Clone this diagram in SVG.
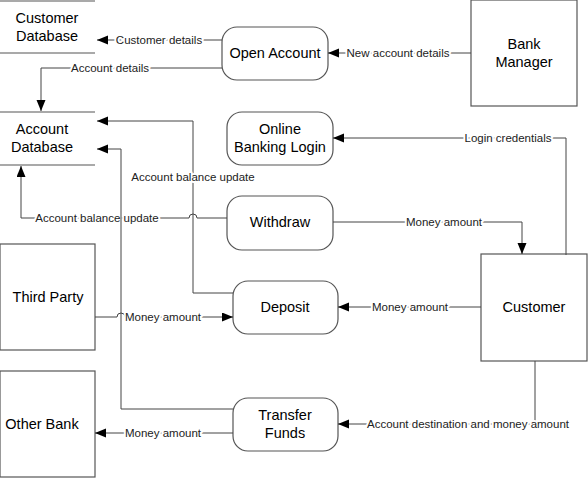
<svg xmlns="http://www.w3.org/2000/svg" width="588" height="478" viewBox="0 0 588 478">
<style>
.box{fill:#fff;stroke:#555;stroke-width:1.2}
.store{stroke:#555;stroke-width:1.2;fill:none}
.t{font-family:"Liberation Sans",Arial,sans-serif;font-size:14.5px;fill:#000;text-anchor:middle}
.c{fill:none;stroke:#444;stroke-width:1}
.l{font-family:"Liberation Sans",Arial,sans-serif;font-size:11.5px;fill:#222;text-anchor:middle;paint-order:stroke;stroke:#fff;stroke-width:4px;stroke-linejoin:round}
</style>
<defs>
<marker id="a" markerUnits="userSpaceOnUse" markerWidth="12" markerHeight="10" refX="11" refY="4.5" orient="auto">
<path d="M0,0 L11,4.5 L0,9 z" fill="#000"/>
</marker>
</defs>
<rect width="588" height="478" fill="#fff"/>
<g id="customer-database">
<path class="store" d="M0,1 H95 M0,53 H95"/>
<text class="t" x="47" y="23">Customer</text>
<text class="t" x="47" y="41">Database</text>
</g>
<g id="account-database">
<path class="store" d="M0,112 H95 M0,165 H95"/>
<text class="t" x="42" y="134">Account</text>
<text class="t" x="42" y="152">Database</text>
</g>
<g id="open-account">
<rect class="box" x="222" y="27" width="106" height="53" rx="15"/>
<text class="t" x="275" y="58">Open Account</text>
</g>
<g id="bank-manager">
<rect class="box" x="471" y="0" width="106" height="106"/>
<text class="t" x="524" y="49">Bank</text>
<text class="t" x="524" y="67">Manager</text>
</g>
<g id="online-banking-login">
<rect class="box" x="227" y="112" width="106" height="53" rx="15"/>
<text class="t" x="280" y="134">Online</text>
<text class="t" x="280" y="152">Banking Login</text>
</g>
<g id="withdraw">
<rect class="box" x="227" y="196" width="106" height="54" rx="15"/>
<text class="t" x="280" y="227">Withdraw</text>
</g>
<g id="deposit">
<rect class="box" x="233" y="281" width="105" height="53" rx="15"/>
<text class="t" x="285" y="312">Deposit</text>
</g>
<g id="transfer-funds">
<rect class="box" x="233" y="398" width="105" height="53" rx="15"/>
<text class="t" x="285" y="420">Transfer</text>
<text class="t" x="285" y="438">Funds</text>
</g>
<g id="third-party">
<rect class="box" x="0" y="244" width="95" height="106"/>
<text class="t" x="48" y="302">Third Party</text>
</g>
<g id="other-bank">
<rect class="box" x="0" y="371" width="95" height="106"/>
<text class="t" x="42" y="429">Other Bank</text>
</g>
<g id="customer">
<rect class="box" x="481" y="254" width="106" height="107"/>
<text class="t" x="534" y="312">Customer</text>
</g>
<g id="connectors">
<path class="c" d="M222,40 H97" marker-end="url(#a)"/>
<text class="l" x="159" y="44">Customer details</text>
<path class="c" d="M471,53 H328" marker-end="url(#a)"/>
<text class="l" x="398" y="57">New account details</text>
<path class="c" d="M222,68 H41 V111" marker-end="url(#a)"/>
<text class="l" x="110" y="72">Account details</text>
<path class="c" d="M566,255 V138 H333" marker-end="url(#a)"/>
<text class="l" x="508" y="142">Login credentials</text>
<path class="c" d="M333,222 H522 V254" marker-end="url(#a)"/>
<text class="l" x="444" y="226">Money amount</text>
<path class="c" d="M227,218 H197 A4,4 0 0 0 189,218 H21 V166" marker-end="url(#a)"/>
<text class="l" x="97" y="222">Account balance update</text>
<path class="c" d="M233,293 H193 V121 H97" marker-end="url(#a)"/>
<text class="l" x="193" y="181">Account balance update</text>
<path class="c" d="M233,409 H121 V149 H97" marker-end="url(#a)"/>
<path class="c" d="M95,317 H117 A4,4 0 0 1 125,317 H233" marker-end="url(#a)"/>
<text class="l" x="163" y="321">Money amount</text>
<path class="c" d="M481,307 H338" marker-end="url(#a)"/>
<text class="l" x="410" y="311">Money amount</text>
<path class="c" d="M233,433 H95" marker-end="url(#a)"/>
<text class="l" x="163" y="437">Money amount</text>
<path class="c" d="M535,361 V424 H338" marker-end="url(#a)"/>
<text class="l" x="468" y="428">Account destination and money amount</text>
</g>
</svg>
